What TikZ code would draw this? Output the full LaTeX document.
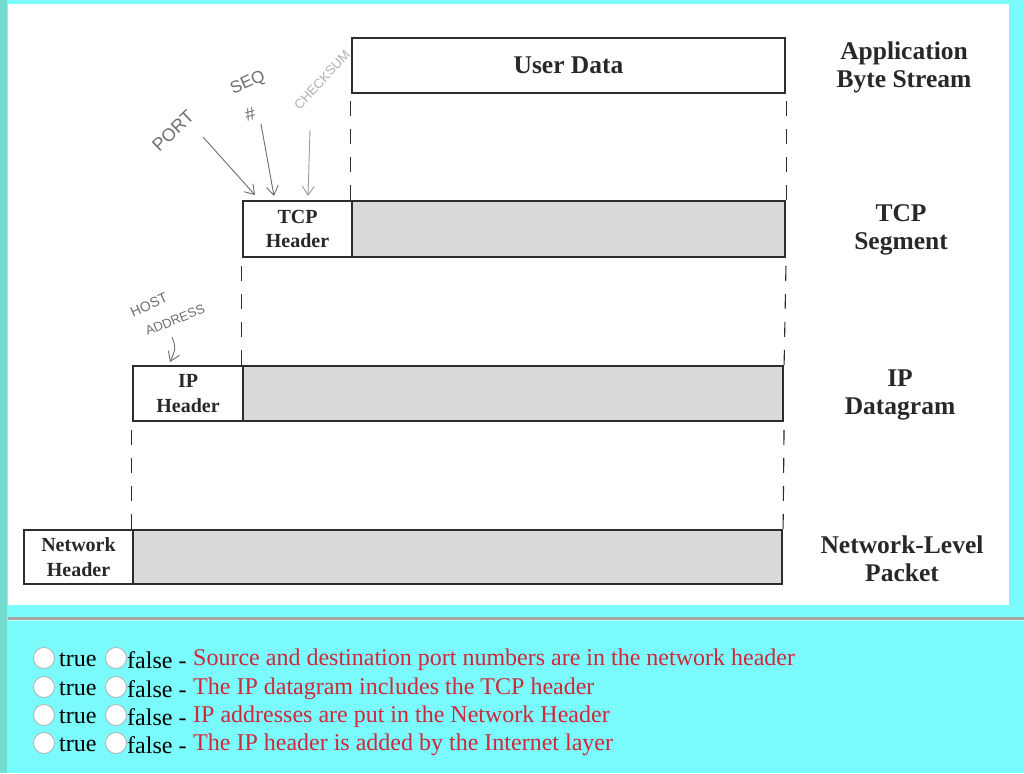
\documentclass[tikz,border=0pt]{standalone}
\usepackage{fontspec}
\setmainfont{Liberation Serif}
\newfontfamily\hand{Liberation Sans}
\usetikzlibrary{arrows.meta}
\definecolor{pagecyan}{RGB}{122,250,250}
\definecolor{stripteal}{RGB}{116,220,206}
\definecolor{qred}{RGB}{205,40,60}
\definecolor{boxfill}{RGB}{218,218,218}
\definecolor{boxline}{RGB}{45,45,45}
\definecolor{pencil}{RGB}{110,110,110}
\definecolor{inkgray}{RGB}{40,40,40}
\tikzset{
  hdr/.style={draw=boxline, line width=2.2pt, fill=white, inner sep=0pt, align=center,
    font=\bfseries\fontsize{20}{24.5}\selectfont, text=inkgray},
  databox/.style={draw=boxline, line width=2.2pt, fill=boxfill, inner sep=0pt},
  dashlink/.style={draw=boxline, line width=1.1pt, dash pattern=on 15pt off 13pt},
  lab/.style={align=center, inner sep=0pt, font=\bfseries\fontsize{25.5}{28}\selectfont, text=inkgray},
  handtxt/.style={inner sep=0pt, text=pencil, font=\hand\fontsize{16}{16}\selectfont},
  pencilarrow/.style={draw=pencil, line width=0.9pt, -{Straight Barb[length=9pt,width=12pt]}},
  radio/.style={circle, draw=black!30, fill=white, minimum size=21pt, inner sep=0pt, line width=0.8pt},
  qtxt/.style={anchor=west, inner sep=0pt, font=\fontsize{24}{28}\selectfont, text=black},
  qred/.style={qtxt, text=qred}
}
\begin{document}
\begin{tikzpicture}[x=1pt, y=-1pt]
\useasboundingbox (0,0) rectangle (1024,773);
% page background
\fill[pagecyan] (0,0) rectangle (1024,773);
\fill[stripteal] (0,0) rectangle (7,773);
\fill[white] (8,4) rectangle (1009,605);
\fill[black!35] (8,617) rectangle (1024,619.5);
\fill[white!60!pagecyan] (8,619.5) rectangle (1024,621);

% boxes
\node[hdr, minimum width=433pt, minimum height=55pt, font=\bfseries\fontsize{25.5}{28}\selectfont] (ud) at (568.5,65.5) {User Data};
\node[databox, minimum width=433pt, minimum height=56pt] (tcpd) at (568.5,229) {};
\node[hdr, minimum width=109pt, minimum height=56pt] (tcph) at (297.5,229) {TCP\\Header};
\node[databox, minimum width=540pt, minimum height=55pt] (ipd) at (513,393.5) {};
\node[hdr, minimum width=110pt, minimum height=55pt] (iph) at (188,393.5) {IP\\Header};
\node[databox, minimum width=649pt, minimum height=54pt] (netd) at (457.5,557) {};
\node[hdr, minimum width=109pt, minimum height=54pt] (neth) at (78.5,557) {Network\\Header};

% dashed guides
\draw[dashlink] (tcpd.north west) -- (ud.south west);
\draw[dashlink] (tcpd.north east) -- (ud.south east);
\draw[dashlink] (ipd.north west) -- (tcph.south west);
\draw[dashlink] (ipd.north east) -- (tcpd.south east);
\draw[dashlink] (netd.north west) -- (iph.south west);
\draw[dashlink] (netd.north east) -- (ipd.south east);

% right labels
\node[lab] (l1) at (904,67) {Application\\Byte Stream};
\node[lab] (l2) at (901,230) {TCP\\Segment};
\node[lab] (l3) at (900,395) {IP\\Datagram};
\node[lab] (l4) at (902,559) {Network-Level\\Packet};

% pencil annotations
\node[handtxt, rotate=44, font=\hand\fontsize{18}{18}\selectfont] (port) at (173,131) {PORT};
\node[handtxt, rotate=24, font=\hand\fontsize{17}{17}\selectfont] (seq) at (248,83) {SEQ};
\node[handtxt, rotate=15, font=\hand\fontsize{18}{18}\selectfont] (hash) at (250,114) {\#};
\node[handtxt, rotate=47, text=pencil!55, font=\hand\fontsize{13}{13}\selectfont] (chk) at (322,80) {CHECKSUM};
\node[handtxt, rotate=24, font=\hand\fontsize{14}{14}\selectfont] (host) at (149,305) {HOST};
\node[handtxt, rotate=22, font=\hand\fontsize{13}{13}\selectfont] (addr) at (175,320) {ADDRESS};
\coordinate (portA) at (203,137);
\coordinate (portB) at (255,195);
\coordinate (seqA) at (261,124);
\coordinate (seqB) at (274,196);
\coordinate (chkA) at (310,130);
\coordinate (chkB) at (308,196);
\coordinate (hostA) at (172,337);
\coordinate (hostB) at (170,362);
\draw[pencilarrow] (portA) -- (portB);
\draw[pencilarrow] (seqA) -- (seqB);
\draw[pencilarrow, draw=pencil!70] (chkA) -- (chkB);
\draw[pencilarrow] (hostA) .. controls (176,348) .. (hostB);

% quiz rows
\foreach \i/\yy/\txt in {1/658/{Source and destination port numbers are in the network header},
                         2/687/{The IP datagram includes the TCP header},
                         3/715/{IP addresses are put in the Network Header},
                         4/743/{The IP header is added by the Internet layer}}{
  \node[radio] (rt\i) at (44,\yy) {};
  \node[qtxt] (tt\i) at (59,\yy+2) {true};
  \node[radio] (rf\i) at (116,\yy) {};
  \node[qtxt] (ft\i) at (127,\yy+2) {false -};
  \node[qred] (q\i) at (193,\yy+2) {\txt};
}
\end{tikzpicture}
\end{document}
